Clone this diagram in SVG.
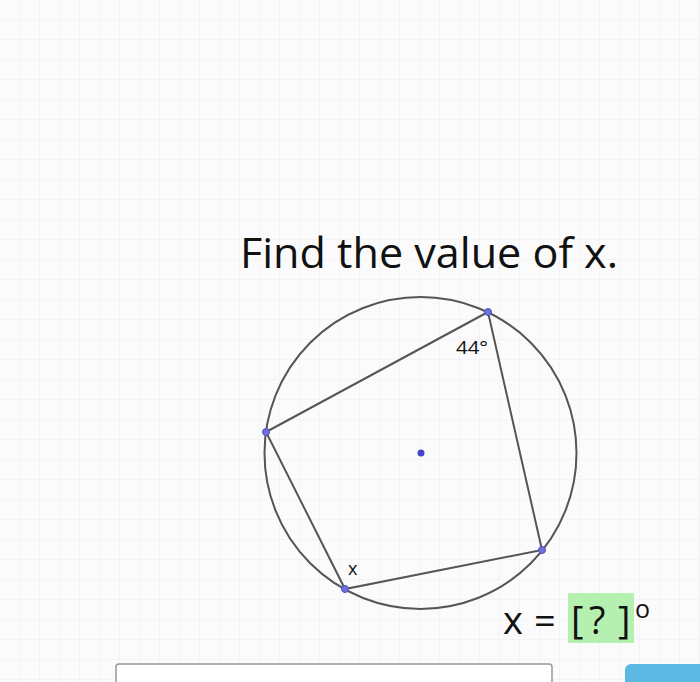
<svg xmlns="http://www.w3.org/2000/svg" width="700" height="682" viewBox="0 0 700 682">
<defs>
<pattern id="grid" width="20" height="20" patternUnits="userSpaceOnUse">
<rect width="20" height="20" fill="#fbfbfc"/>
<path d="M20 0V20M0 20H20" stroke="#eeeef2" stroke-width="1"/>
</pattern>
</defs>
<style>
.t{font-family:"Open Sans","Noto Sans",sans-serif;fill:#111}
.seg{stroke:#555;stroke-width:2;fill:none}
.pt{fill:#7070dd;stroke:#5050c0;stroke-width:1}
</style>
<rect width="700" height="682" fill="url(#grid)"/>
<g id="title"><text class="t" x="240" y="268" font-size="42" textLength="378" lengthAdjust="spacingAndGlyphs">Find the value of x.</text></g>
<g id="circle"><circle cx="420.5" cy="453" r="156" class="seg"/></g>
<g id="connectors">
<polyline class="seg" points="488,312 266,432 345,589 542,550 488,312"/>
</g>
<g id="points">
<circle class="pt" cx="488" cy="312" r="3.5"/>
<circle class="pt" cx="266" cy="432" r="3.5"/>
<circle class="pt" cx="345" cy="589" r="3.5"/>
<circle class="pt" cx="542" cy="550" r="3.5"/>
<circle cx="421" cy="453" r="3.5" fill="#4444cc"/>
</g>
<g id="labels">
<text class="t" x="456" y="354" font-size="19" fill="#222" textLength="32" lengthAdjust="spacingAndGlyphs">44°</text>
<text class="t" x="348" y="575" font-size="18" fill="#222">x</text>
</g>
<g id="answer">
<rect x="568" y="593" width="66" height="50" fill="#b5f0b0"/>
<text class="t" x="503" y="634" font-size="38">x</text>
<text class="t" x="534" y="634" font-size="38">=</text>
<text class="t" x="571" y="634" font-size="38">[</text>
<text class="t" x="589" y="634" font-size="38">?</text>
<text class="t" x="618" y="634" font-size="38">]</text>
<text class="t" x="635" y="618" font-size="25">o</text>
</g>
<g id="input">
<rect x="116" y="664" width="436" height="30" rx="3" fill="#fff" stroke="#999" stroke-width="1.5"/>
<rect x="625" y="664" width="100" height="30" rx="6" fill="#5bb8e2"/>
</g>
</svg>
